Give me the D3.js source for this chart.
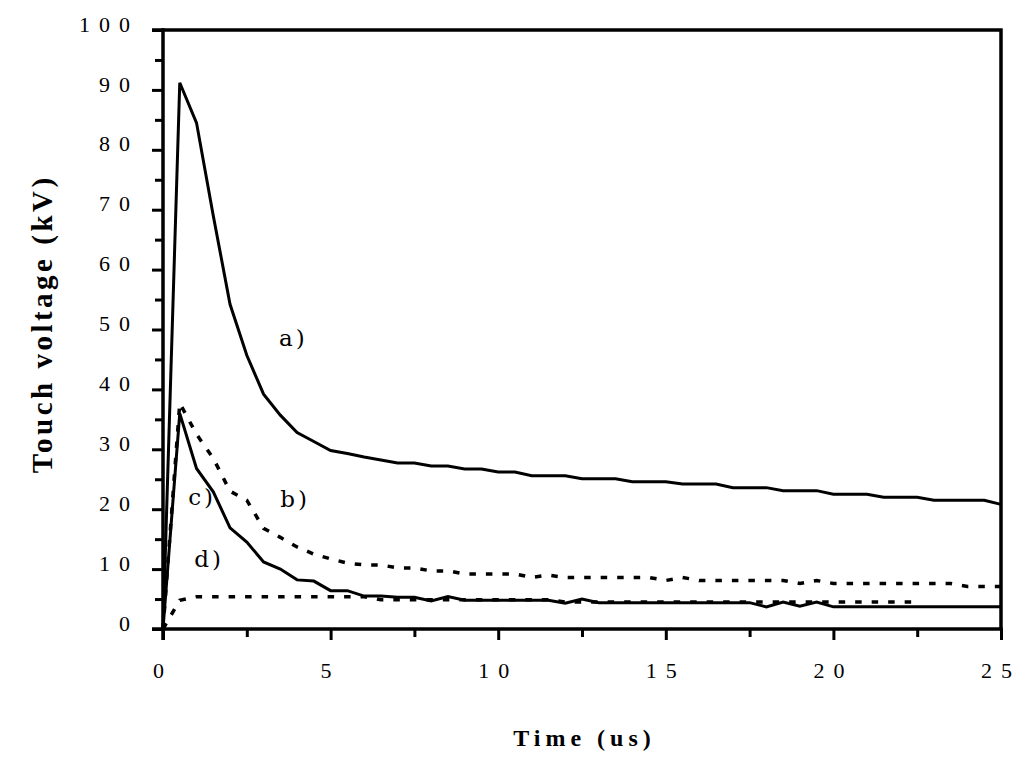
<!DOCTYPE html>
<html>
<head>
<meta charset="utf-8">
<script src="https://cdn.jsdelivr.net/npm/d3@7/dist/d3.min.js"></script>
<style>
    body { margin: 0; background: #fff; }
    svg { display: block; }
</style>
</head>
<body>
<svg id="chart" width="1015" height="777"></svg>
<script>

    // ------------------------------------------------------
    // DATA (time in us, touch voltage in kV)
    // ------------------------------------------------------
    var timeUs = [0, 0.5, 1, 1.5, 2, 2.5, 3, 3.5, 4, 4.5, 5, 5.5, 6, 6.5, 7, 7.5, 8, 8.5, 9, 9.5,
                  10, 10.5, 11, 11.5, 12, 12.5, 13, 13.5, 14, 14.5, 15, 15.5, 16, 16.5, 17, 17.5,
                  18, 18.5, 19, 19.5, 20, 20.5, 21, 21.5, 22, 22.5, 23, 23.5, 24, 24.5, 25];

    var seriesA = [0, 91.2, 84.5, 69, 54.2, 45.7, 39.2, 35.7, 32.8, 31.3, 29.8, 29.3, 28.7, 28.2, 27.7, 27.7,
                   27.2, 27.2, 26.7, 26.7, 26.2, 26.2, 25.6, 25.6, 25.6, 25.1, 25.1, 25.1, 24.6, 24.6, 24.6,
                   24.2, 24.2, 24.2, 23.6, 23.6, 23.6, 23.1, 23.1, 23.1, 22.5, 22.5, 22.5, 22.0, 22.0, 22.0,
                   21.5, 21.5, 21.5, 21.5, 20.8];

    var seriesB = [0, 37.7, 32.5, 28.5, 23.0, 21.5, 16.8, 15.3, 13.7, 12.5, 11.7, 11.0, 10.7, 10.7, 10.2, 10.2,
                   9.7, 9.7, 9.2, 9.2, 9.2, 9.2, 8.6, 9.0, 8.6, 8.6, 8.6, 8.6, 8.6, 8.6, 8.1, 8.6, 8.1, 8.1,
                   8.1, 8.1, 8.1, 8.1, 7.6, 8.1, 7.6, 7.6, 7.6, 7.6, 7.6, 7.6, 7.6, 7.6, 7.1, 7.1, 7.1];

    var seriesC = [0, 36.0, 26.8, 22.9, 16.9, 14.5, 11.2, 10.0, 8.2, 8.0, 6.4, 6.4, 5.5, 5.5, 5.3, 5.3,
                   4.7, 5.4, 4.8, 4.8, 4.8, 4.8, 4.8, 4.8, 4.3, 5.0, 4.4, 4.4, 4.4, 4.4, 4.4, 4.4, 4.4, 4.4,
                   4.4, 4.4, 3.7, 4.5, 3.8, 4.5, 3.7, 3.7, 3.7, 3.7, 3.7, 3.7, 3.7, 3.7, 3.7, 3.7, 3.7];

    // d) stops at 22.5 us
    var seriesD = [0, 4.8, 5.4, 5.4, 5.4, 5.4, 5.4, 5.4, 5.4, 5.4, 5.4, 5.4, 5.4,
                   4.9, 4.9, 4.9, 4.9, 4.9, 4.9, 4.9, 4.9, 4.9, 4.9, 4.9,
                   4.5, 4.5, 4.5, 4.5, 4.5, 4.5, 4.5, 4.5, 4.5, 4.5, 4.5, 4.5, 4.5,
                   4.5, 4.5, 4.5, 4.5, 4.5, 4.5, 4.5, 4.5, 4.5];

    var xMajorTicks = [0, 5, 10, 15, 20, 25];
    var xMinorTicks = [2.5, 7.5, 12.5, 17.5, 22.5];
    var yMajorTicks = [0, 10, 20, 30, 40, 50, 60, 70, 80, 90, 100];
    var yMinorTicks = [5, 15, 25, 35, 45, 55, 65, 75, 85, 95];

    var curveNames = ["a)", "b)", "c)", "d)"];
    var curveLabelT = [3.46, 3.5, 0.75, 0.93];
    var curveLabelV = [47.2, 20.4, 20.7, 10.4];

    // ------------------------------------------------------
    // Setup
    // ------------------------------------------------------
    var svg = d3.select("#chart");
    var plot = {left: 163, right: 1001, top: 30, bottom: 629};

    var x = d3.scaleLinear().domain([0, 25]).range([plot.left, plot.right]);
    var y = d3.scaleLinear().domain([0, 100]).range([plot.bottom, plot.top]);

    var serif = "'Liberation Serif', 'Times New Roman', serif";

    // ---------------------------------------------------
    // spread the characters of a text out (no trailing gap,
    // so anchors stay on the glyphs)
    // ---------------------------------------------------
    function spreadText(sel, gap) {
        sel.each(function() {
            var t = d3.select(this);
            var chars = t.text().split("");
            t.text(null);
            chars.forEach(function(c, i) {
                t.append("tspan").attr("dx", i ? gap : null).text(c);
            });
        });
    }

    // frame (top + right border)
    svg.append("path")
        .attr("d", "M" + (plot.left - 11) + "," + plot.top + "H" + plot.right + "V" + plot.bottom)
        .attr("fill", "none")
        .attr("stroke", "#000")
        .attr("stroke-width", 3.5);

    // ------------------------------------------------------
    // Axes
    // ------------------------------------------------------
    var xAxis = svg.append("g")
        .attr("transform", "translate(0," + plot.bottom + ")")
        .call(d3.axisBottom(x).tickValues(xMajorTicks).tickSize(11).tickPadding(22).tickSizeOuter(0)
            .tickFormat(d3.format("d")));

    svg.append("g")
        .attr("transform", "translate(0," + plot.bottom + ")")
        .call(d3.axisBottom(x).tickValues(xMinorTicks).tickSize(8).tickSizeOuter(0).tickFormat(""));

    var yAxis = svg.append("g")
        .attr("transform", "translate(" + plot.left + ",0)")
        .call(d3.axisLeft(y).tickValues(yMajorTicks).tickSize(11).tickPadding(22).tickSizeOuter(0)
            .tickFormat(d3.format("d")));

    svg.append("g")
        .attr("transform", "translate(" + plot.left + ",0)")
        .call(d3.axisLeft(y).tickValues(yMinorTicks).tickSize(8).tickSizeOuter(0).tickFormat(""));

    svg.selectAll(".domain").remove();
    svg.selectAll(".tick line").attr("stroke", "#000").attr("stroke-width", 3);

    // axis lines drawn on top of the ticks
    svg.append("line")
        .attr("x1", plot.left - 11).attr("x2", plot.right + 1.75)
        .attr("y1", plot.bottom).attr("y2", plot.bottom)
        .attr("stroke", "#000").attr("stroke-width", 3.5);
    svg.append("line")
        .attr("x1", plot.left).attr("x2", plot.left)
        .attr("y1", plot.top - 1.75).attr("y2", plot.bottom + 11)
        .attr("stroke", "#000").attr("stroke-width", 3.5);

    svg.selectAll(".tick text")
        .attr("fill", "#000")
        .attr("font-family", serif)
        .attr("font-size", 22)
        .call(spreadText, 9);

    yAxis.selectAll(".tick text").attr("dy", "0.05em");
    xAxis.selectAll(".tick text").attr("transform", "translate(-5,0)");

    // ------------------------------------------------------
    // Lines
    // ------------------------------------------------------
    var line = d3.line()
        .x(function(d) { return x(d[0]); })
        .y(function(d) { return y(d[1]); });

    function pairUp(values) {
        return values.map(function(v, i) { return [timeUs[i], v]; });
    }

    var curves = [
        {values: seriesA, dash: null},
        {values: seriesB, dash: "6.5,10"},
        {values: seriesC, dash: null},
        {values: seriesD, dash: "6.5,10"}
    ];

    svg.append("g")
        .selectAll("path")
        .data(curves)
        .enter().append("path")
        .attr("d", function(d) { return line(pairUp(d.values)); })
        .attr("fill", "none")
        .attr("stroke", "#000")
        .attr("stroke-width", function(d) { return d.dash ? 3.5 : 3; })
        .attr("stroke-linejoin", "miter")
        .attr("stroke-dasharray", function(d) { return d.dash; });

    // curve labels
    svg.append("g")
        .selectAll("text")
        .data(curveNames)
        .enter().append("text")
        .attr("x", function(d, i) { return x(curveLabelT[i]); })
        .attr("y", function(d, i) { return y(curveLabelV[i]); })
        .attr("font-family", "'DejaVu Serif', serif")
        .attr("font-size", 23)
        .text(function(d) { return d; })
        .call(spreadText, 3);

    // ------------------------------------------------------
    // Titles
    // ------------------------------------------------------
    svg.append("text")
        .attr("x", (plot.left + plot.right) / 2)
        .attr("y", 746)
        .attr("text-anchor", "middle")
        .attr("font-family", serif)
        .attr("font-weight", "bold")
        .attr("font-size", 24)
        .text("Time (us)")
        .call(spreadText, 5);

    svg.append("text")
        .attr("transform", "translate(52," + ((plot.top + plot.bottom) / 2 - 4) + ") rotate(-90)")
        .attr("text-anchor", "middle")
        .attr("font-family", serif)
        .attr("font-weight", "bold")
        .attr("font-size", 29)
        .text("Touch voltage (kV)")
        .call(spreadText, 3.5);

</script>
</body>
</html>
